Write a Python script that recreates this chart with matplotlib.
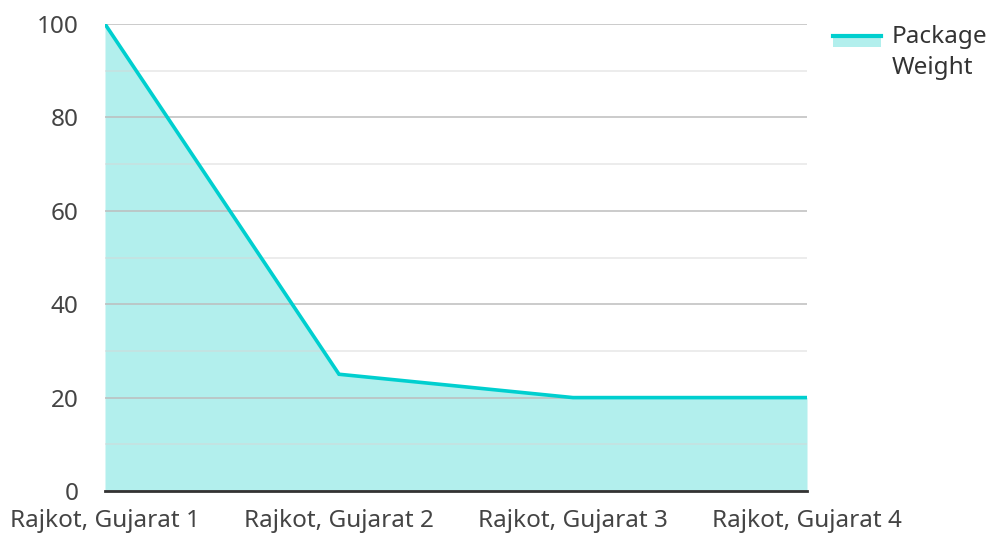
import matplotlib
matplotlib.use("Agg")
import matplotlib.pyplot as plt
from matplotlib.patches import Rectangle
from matplotlib.lines import Line2D

plt.rcParams['font.family'] = ['Noto Sans', 'DejaVu Sans']

categories = ["Rajkot, Gujarat 1", "Rajkot, Gujarat 2", "Rajkot, Gujarat 3", "Rajkot, Gujarat 4"]
package_weight = [100, 25, 20, 20]
series_name = "Package\nWeight"

line_color = "#00CFCF"
fill_color = "#B2EFED"

fig = plt.figure(figsize=(9.93, 5.34), dpi=100)
ax = fig.add_axes([105/993, 1-491/534, (807-105)/993, (491-24)/534])

x = list(range(len(categories)))
ax.fill_between(x, package_weight, 0, color=fill_color, linewidth=0, zorder=1)
ax.plot(x, package_weight, color=line_color, linewidth=2.6, zorder=3, solid_joinstyle='miter')

ax.set_xlim(0, len(categories) - 1)
ax.set_ylim(0, 100)
ax.set_xticks(x)
ax.set_xticklabels(categories)
ax.set_yticks([0, 20, 40, 60, 80, 100])
ax.set_yticks([10, 30, 50, 70, 90], minor=True)
ax.set_axisbelow(False)
ax.grid(True, which='major', axis='y', color='#BDBDBD', linewidth=1.3, alpha=0.85, zorder=2)
ax.grid(True, which='minor', axis='y', color='#D6D6D6', linewidth=1.3, alpha=0.5, zorder=2)
ax.grid(False, axis='x')

for s in ['top', 'right', 'left']:
    ax.spines[s].set_visible(False)
ax.spines['bottom'].set_color('#333333')
ax.spines['bottom'].set_linewidth(2)
ax.spines['bottom'].set_zorder(4)

ax.tick_params(axis='both', which='both', length=0, labelsize=17.5, labelcolor='#444444')
ax.tick_params(axis='y', pad=19)
ax.tick_params(axis='x', pad=13)

# legend
fig.add_artist(Rectangle((833/993, 1-47/534), 48/993, 12/534, transform=fig.transFigure,
                         facecolor=fill_color, edgecolor='none'))
fig.add_artist(Line2D([833/993, 881/993], [1-36/534, 1-36/534], transform=fig.transFigure,
                      color=line_color, linewidth=3))
fig.text(892/993, 1-52.5/534, series_name, fontsize=17.5, color='#333333', va='center', ha='left',
         linespacing=1.35)

fig.savefig("out.png", dpi=100)
